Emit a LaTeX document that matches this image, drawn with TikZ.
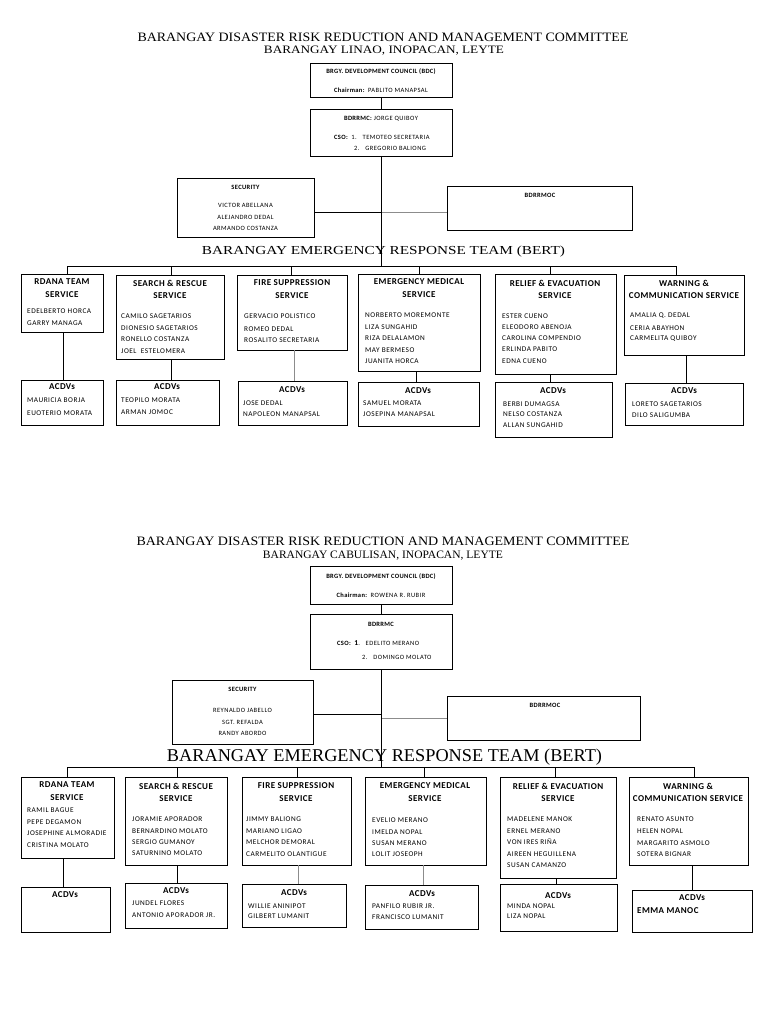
\documentclass[tikz,border=0pt]{standalone}
\usepackage{fontspec}
\usepackage{graphicx}
\newfontfamily\calfont[LetterSpace=5]{Carlito}
\newfontfamily\namefont[LetterSpace=7]{Carlito}
\newfontfamily\tmsfont{Liberation Serif}
\newcommand{\rbox}[5]{\node[bx, minimum width={(#4-#2)*1pt}, minimum height={(#5-#3)*1pt}] (#1) at (#2,#3) {};}
\tikzset{
  bx/.style={draw, line width=0.7pt, inner sep=0pt, outer sep=0pt, anchor=north west},
  ln/.style={line width=0.7pt},
  lng/.style={line width=0.7pt, draw=black!45},
  hd/.style={font=\calfont\bfseries\fontsize{9}{10}\selectfont, inner sep=0pt},
  nm/.style={font=\namefont\fontsize{7.3}{8}\selectfont, inner sep=0pt, anchor=west},
  sh/.style={font=\calfont\bfseries\fontsize{6.5}{7}\selectfont, inner sep=0pt},
  sm/.style={font=\namefont\fontsize{6.5}{7}\selectfont, inner sep=0pt},
  ttl/.style={inner sep=0pt, font=\tmsfont}
}
\begin{document}
\begin{tikzpicture}[x=1pt,y=-1pt]
\useasboundingbox[fill=white] (0,0) rectangle (768,1024);

% ================= TOP HALF =================
\node[ttl] (t1a) at (383,37) {\resizebox{491pt}{8.5pt}{BARANGAY DISASTER RISK REDUCTION AND MANAGEMENT COMMITTEE}};
\node[ttl] (t2a) at (384,51) {\resizebox{240pt}{7.5pt}{BARANGAY LINAO, INOPACAN, LEYTE}};

\rbox{bdc1}{310}{63}{452}{97}
\node[sh] (bdc1a) at (381,72) {BRGY. DEVELOPMENT COUNCIL (BDC)};
\node[sm] (bdc1b) at (381,90) {\calfont\bfseries Chairman:\ \ \namefont\mdseries PABLITO MANAPSAL};

\rbox{mc1}{310}{109}{452}{156}
\node[sm] (mc1a) at (381,119) {\calfont\bfseries BDRRMC:\ \namefont\mdseries JORGE QUIBOY};
\node[sm, anchor=west] (mc1b) at (334,137) {\calfont\bfseries CSO:\ \ \namefont\mdseries 1.\ \ \ TEMOTEO SECRETARIA};
\node[sm, anchor=west] (mc1c) at (354,148) {2.\ \ \ GREGORIO BALIONG};
\draw[ln] (bdc1.south) -- (mc1.north);

\rbox{sec1}{177}{178}{314}{237}
\node[sh] (sec1a) at (245.5,187) {SECURITY};
\node[sm] (sec1b) at (245.5,205) {VICTOR ABELLANA};
\node[sm] (sec1c) at (245.5,217) {ALEJANDRO DEDAL};
\node[sm] (sec1d) at (245.5,228) {ARMANDO COSTANZA};

\rbox{oc1}{447}{186}{632}{230}
\node[sh] (oc1a) at (540,195) {BDRRMOC};

\coordinate (c1) at (381,212);
\draw[ln] (sec1.east |- c1) -- (c1);
\draw[lng] (c1) -- (c1 -| oc1.west);

\node[ttl] (bert1) at (383.5,252) {\resizebox{363pt}{8.5pt}{BARANGAY EMERGENCY RESPONSE TEAM (BERT)}};

\coordinate (b1) at (67,266);
\coordinate (b2) at (171,266);
\coordinate (b3) at (291,266);
\coordinate (b4) at (419,266);
\coordinate (b5) at (550,266);
\coordinate (b6) at (676,266);
\draw[ln] (mc1.south) -- (mc1.south |- b1);
\draw[ln] (b1) -- (b6);

% RDANA
\rbox{r1}{21}{274}{103}{332}
\node[hd] (r1a) at (62,282) {RDANA TEAM};
\node[hd] (r1b) at (62,295) {SERVICE};
\node[nm] (r1c) at (27,311) {EDELBERTO HORCA};
\node[nm] (r1d) at (27,323) {GARRY MANAGA};
\rbox{a1}{21}{380}{103}{425}
\node[hd] (a1a) at (62,387) {ACDVs};
\node[nm] (a1b) at (27,400) {MAURICIA BORJA};
\node[nm] (a1c) at (27,413) {EUOTERIO MORATA};
\draw[ln] (b1) -- (b1 |- r1.north);
\draw[ln] (r1.south -| 63,0) -- (a1.north -| 63,0);

% SEARCH
\rbox{r2}{116}{275}{224}{359}
\node[hd] (r2a) at (170,283) {SEARCH \& RESCUE};
\node[hd] (r2b) at (170,296) {SERVICE};
\node[nm] (r2c) at (121,316) {CAMILO SAGETARIOS};
\node[nm] (r2d) at (121,328) {DIONESIO SAGETARIOS};
\node[nm] (r2e) at (121,339) {RONELLO COSTANZA};
\node[nm] (r2f) at (121,351) {JOEL\ \ ESTELOMERA};
\rbox{a2}{116}{380}{219}{425}
\node[hd] (a2a) at (167,387) {ACDVs};
\node[nm] (a2b) at (121,400) {TEOPILO MORATA};
\node[nm] (a2c) at (121,412) {ARMAN JOMOC};
\draw[ln] (b2) -- (b2 |- r2.north);
\draw[ln] (r2.south -| 171,0) -- (a2.north -| 171,0);

% FIRE
\rbox{r3}{237}{275}{347}{350}
\node[hd] (r3a) at (292,283) {FIRE SUPPRESSION};
\node[hd] (r3b) at (292,296) {SERVICE};
\node[nm] (r3c) at (244,316) {GERVACIO POLISTICO};
\node[nm] (r3d) at (244,329) {ROMEO DEDAL};
\node[nm] (r3e) at (244,340) {ROSALITO SECRETARIA};
\rbox{a3}{238}{381}{347}{425}
\node[hd] (a3a) at (292,390) {ACDVs};
\node[nm] (a3b) at (243,403) {JOSE DEDAL};
\node[nm] (a3c) at (243,414) {NAPOLEON MANAPSAL};
\draw[ln] (b3) -- (b3 |- r3.north);
\draw[lng] (r3.south -| 294,0) -- (a3.north -| 294,0);

% EMS
\rbox{r4}{358}{274}{480}{371}
\node[hd] (r4a) at (419,282) {EMERGENCY MEDICAL};
\node[hd] (r4b) at (419,295) {SERVICE};
\node[nm] (r4c) at (365,315) {NORBERTO MOREMONTE};
\node[nm] (r4d) at (365,327) {LIZA SUNGAHID};
\node[nm] (r4e) at (365,338) {RIZA DELALAMON};
\node[nm] (r4f) at (365,350) {MAY BERMESO};
\node[nm] (r4g) at (365,361) {JUANITA HORCA};
\rbox{a4}{358}{382}{479}{426}
\node[hd] (a4a) at (418,391) {ACDVs};
\node[nm] (a4b) at (363,403) {SAMUEL MORATA};
\node[nm] (a4c) at (363,414) {JOSEPINA MANAPSAL};
\draw[ln] (b4) -- (b4 |- r4.north);
\draw[ln] (r4.south -| 416,0) -- (a4.north -| 416,0);

% RELIEF
\rbox{r5}{495}{274}{616}{374}
\node[hd] (r5a) at (555,283) {RELIEF \& EVACUATION};
\node[hd] (r5b) at (555,296) {SERVICE};
\node[nm] (r5c) at (502,316) {ESTER CUENO};
\node[nm] (r5d) at (502,327) {ELEODORO ABENOJA};
\node[nm] (r5e) at (502,338) {CAROLINA COMPENDIO};
\node[nm] (r5f) at (502,349) {ERLINDA PABITO};
\node[nm] (r5g) at (502,361) {EDNA CUENO};
\rbox{a5}{495}{382}{612}{437}
\node[hd] (a5a) at (553,391) {ACDVs};
\node[nm] (a5b) at (503,404) {BERBI DUMAGSA};
\node[nm] (a5c) at (503,414) {NELSO COSTANZA};
\node[nm] (a5d) at (503,425) {ALLAN SUNGAHID};
\draw[ln] (b5) -- (b5 |- r5.north);
\draw[ln] (r5.south -| 550,0) -- (a5.north -| 550,0);

% WARNING
\rbox{r6}{624}{275}{744}{355}
\node[hd] (r6a) at (684,283) {WARNING \&};
\node[hd] (r6b) at (684,296) {COMMUNICATION SERVICE};
\node[nm] (r6c) at (630,316) {AMALIA Q. DEDAL};
\node[nm] (r6d) at (630,328) {CERIA ABAYHON};
\node[nm] (r6e) at (630,339) {CARMELITA QUIBOY};
\rbox{a6}{625}{383}{743}{425}
\node[hd] (a6a) at (684,391) {ACDVs};
\node[nm] (a6b) at (632,404) {LORETO SAGETARIOS};
\node[nm] (a6c) at (632,415) {DILO SALIGUMBA};
\draw[ln] (b6) -- (b6 |- r6.north);
\draw[ln] (r6.south -| 686,0) -- (a6.north -| 686,0);

% ================= BOTTOM HALF =================
\node[ttl] (t1b) at (383,541) {\resizebox{493pt}{8.5pt}{BARANGAY DISASTER RISK REDUCTION AND MANAGEMENT COMMITTEE}};
\node[ttl] (t2b) at (383,556) {\resizebox{240pt}{7.5pt}{BARANGAY CABULISAN, INOPACAN, LEYTE}};

\rbox{bdc2}{310}{566}{452}{604}
\node[sh] (bdc2a) at (381,577) {BRGY. DEVELOPMENT COUNCIL (BDC)};
\node[sm] (bdc2b) at (381,595) {\calfont\bfseries Chairman:\ \ \namefont\mdseries ROWENA R. RUBIR};

\rbox{mc2}{310}{614}{452}{669}
\node[sh] (mc2a) at (381,624) {BDRRMC};
\node[sm, anchor=west] (mc2b) at (337,643) {\calfont\bfseries CSO:\ \ {\fontsize{7.5}{8}\selectfont 1}\namefont\mdseries.\ \ \ EDELITO MERANO};
\node[sm, anchor=west] (mc2c) at (362,657) {2.\ \ \ DOMINGO MOLATO};
\draw[ln] (bdc2.south) -- (mc2.north);

\rbox{sec2}{172}{680}{313}{744}
\node[sh] (sec2a) at (242.5,689) {SECURITY};
\node[sm] (sec2b) at (242.5,710) {REYNALDO JABELLO};
\node[sm] (sec2c) at (242.5,722) {SGT. REFALDA};
\node[sm] (sec2d) at (242.5,733) {RANDY ABORDO};

\rbox{oc2}{447}{696}{640}{740}
\node[sh] (oc2a) at (545,705) {BDRRMOC};

\coordinate (c2a) at (381,714);
\coordinate (c2b) at (381,718);
\draw[ln] (sec2.east |- c2a) -- (c2a);
\draw[lng] (c2b) -- (c2b -| oc2.west);

\node[ttl] (bert2) at (384.5,757) {\resizebox{435pt}{12.5pt}{BARANGAY EMERGENCY RESPONSE TEAM (BERT)}};

\coordinate (d1) at (67,767);
\coordinate (d2) at (177,767);
\coordinate (d3) at (297,767);
\coordinate (d4) at (424,767);
\coordinate (d5) at (555,767);
\coordinate (d6) at (694,767);
\draw[ln] (mc2.south) -- (mc2.south |- d1);
\draw[ln] (d1) -- (d6);

% RDANA
\rbox{s1}{21}{777}{114}{858}
\node[hd] (s1a) at (67,785) {RDANA TEAM};
\node[hd] (s1b) at (67,798) {SERVICE};
\node[nm] (s1c) at (27,810) {RAMIL BAGUE};
\node[nm] (s1d) at (27,822) {PEPE DEGAMON};
\node[nm] (s1e) at (27,833) {JOSEPHINE ALMORADIE};
\node[nm] (s1f) at (27,845) {CRISTINA MOLATO};
\rbox{e1}{21}{887}{110}{932}
\node[hd] (e1a) at (65,895) {ACDVs};
\draw[ln] (d1) -- (d1 |- s1.north);
\draw[ln] (s1.south -| 63,0) -- (e1.north -| 63,0);

% SEARCH
\rbox{s2}{125}{777}{227}{865}
\node[hd] (s2a) at (176,786) {SEARCH \& RESCUE};
\node[hd] (s2b) at (176,799) {SERVICE};
\node[nm] (s2c) at (132,819) {JORAMIE APORADOR};
\node[nm] (s2d) at (132,831) {BERNARDINO MOLATO};
\node[nm] (s2e) at (132,842) {SERGIO GUMANOY};
\node[nm] (s2f) at (132,853) {SATURNINO MOLATO};
\rbox{e2}{125}{883}{227}{928}
\node[hd] (e2a) at (176,891) {ACDVs};
\node[nm] (e2b) at (132,903) {JUNDEL FLORES};
\node[nm] (e2c) at (132,915) {ANTONIO APORADOR JR.};
\draw[ln] (d2) -- (d2 |- s2.north);
\draw[ln] (s2.south -| 177,0) -- (e2.north -| 177,0);

% FIRE
\rbox{s3}{242}{777}{351}{865}
\node[hd] (s3a) at (296,786) {FIRE SUPPRESSION};
\node[hd] (s3b) at (296,799) {SERVICE};
\node[nm] (s3c) at (246,819) {JIMMY BALIONG};
\node[nm] (s3d) at (246,831) {MARIANO LIGAO};
\node[nm] (s3e) at (246,842) {MELCHOR DEMORAL};
\node[nm] (s3f) at (246,854) {CARMELITO OLANTIGUE};
\rbox{e3}{242}{884}{346}{927}
\node[hd] (e3a) at (294,893) {ACDVs};
\node[nm] (e3b) at (248,906) {WILLIE ANINIPOT};
\node[nm] (e3c) at (248,916) {GILBERT LUMANIT};
\draw[ln] (d3) -- (d3 |- s3.north);
\draw[lng] (s3.south -| 298,0) -- (e3.north -| 298,0);

% EMS
\rbox{s4}{365}{777}{486}{865}
\node[hd] (s4a) at (425,786) {EMERGENCY MEDICAL};
\node[hd] (s4b) at (425,799) {SERVICE};
\node[nm] (s4c) at (372,820) {EVELIO MERANO};
\node[nm] (s4d) at (372,832) {IMELDA NOPAL};
\node[nm] (s4e) at (372,843) {SUSAN MERANO};
\node[nm] (s4f) at (372,854) {LOLIT JOSEOPH};
\rbox{e4}{365}{885}{478}{929}
\node[hd] (e4a) at (422,894) {ACDVs};
\node[nm] (e4b) at (372,906) {PANFILO RUBIR JR.};
\node[nm] (e4c) at (372,917) {FRANCISCO LUMANIT};
\draw[ln] (d4) -- (d4 |- s4.north);
\draw[lng] (s4.south -| 423,0) -- (e4.north -| 423,0);

% RELIEF
\rbox{s5}{500}{777}{616}{878}
\node[hd] (s5a) at (558,786) {RELIEF \& EVACUATION};
\node[hd] (s5b) at (558,799) {SERVICE};
\node[nm] (s5c) at (507,819) {MADELENE MANOK};
\node[nm] (s5d) at (507,831) {ERNEL MERANO};
\node[nm] (s5e) at (507,842) {VON IRES RIÑA};
\node[nm] (s5f) at (507,854) {AIREEN HEGUILLENA};
\node[nm] (s5g) at (507,865) {SUSAN CAMANZO};
\rbox{e5}{500}{884}{617}{931}
\node[hd] (e5a) at (558,896) {ACDVs};
\node[nm] (e5b) at (507,906) {MINDA NOPAL};
\node[nm] (e5c) at (507,916) {LIZA NOPAL};
\draw[ln] (d5) -- (d5 |- s5.north);
\draw[ln] (s5.south -| 556,0) -- (e5.north -| 556,0);

% WARNING
\rbox{s6}{629}{777}{748}{865}
\node[hd] (s6a) at (688,786) {WARNING \&};
\node[hd] (s6b) at (688,799) {COMMUNICATION SERVICE};
\node[nm] (s6c) at (637,819) {RENATO ASUNTO};
\node[nm] (s6d) at (637,831) {HELEN NOPAL};
\node[nm] (s6e) at (637,843) {MARGARITO ASMOLO};
\node[nm] (s6f) at (637,854) {SOTERA BIGNAR};
\rbox{e6}{632}{890}{752}{932}
\node[hd] (e6a) at (692,898) {ACDVs};
\node[hd, anchor=west] (e6b) at (637,911) {EMMA MANOC};
\draw[ln] (d6) -- (d6 |- s6.north);
\draw[ln] (s6.south -| 692,0) -- (e6.north -| 692,0);
\end{tikzpicture}
\end{document}
